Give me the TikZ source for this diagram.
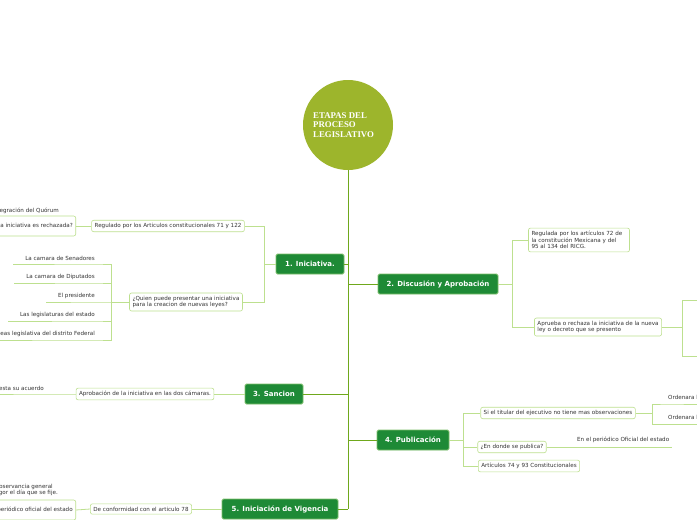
\documentclass[tikz,border=0pt]{standalone}
\usepackage{fontspec}
\setmainfont{DejaVu Sans}
\newfontfamily\titlefont{Liberation Serif}
\definecolor{dk}{HTML}{1E8A36}
\definecolor{ol}{HTML}{9DB52C}
\definecolor{tr}{HTML}{6FA81C}
\definecolor{lg}{HTML}{BDE08F}
\definecolor{tx}{HTML}{333333}
\begin{document}
\begin{tikzpicture}[x=1pt,y=-1pt,
  main/.style={draw=lg!60!dk,line width=0.8pt,fill=dk,rounded corners=1.5pt,text=white,font=\fontsize{7}{8}\selectfont\bfseries,minimum height=20pt,anchor=center},
  sub/.style={draw=lg,line width=0.6pt,fill=white,rounded corners=2pt,text=tx,font=\fontsize{5.6}{6.6}\selectfont,align=left,inner sep=3pt,anchor=center},
  lf/.style={text=tx,font=\fontsize{5.6}{6.6}\selectfont,inner sep=0pt,align=left},
  trk/.style={draw=tr,line width=0.8pt},
  lk/.style={draw=lg,line width=0.8pt}]
\useasboundingbox (0,0) rectangle (697,520);
\clip (0,0) rectangle (697,520);
\fill[white] (0,0) rectangle (697,520);
% trunk
\coordinate (t0) at (348,165);
\coordinate (t5) at (348,509);
\draw[trk] (t0) -- (t5);
\node[circle,fill=ol,minimum size=90pt,inner sep=0pt] (c) at (348,125) {};
\node[text=white,font=\titlefont\fontsize{8.8}{9.5}\selectfont\bfseries,align=left,anchor=west,inner sep=0pt] (ct) at (313,125) {ETAPAS DEL\\PROCESO\\LEGISLATIVO};
% main nodes
\node[main,minimum width=68pt] (m1) at (310,264) {1. Iniciativa.};
\node[main,minimum width=120pt] (m2) at (438,284) {2. Discusión y Aprobación};
\node[main,minimum width=58pt] (m3) at (274,394) {3. Sancion};
\node[main,minimum width=72pt] (m4) at (413,440) {4. Publicación};
\node[main,minimum width=116pt] (m5) at (280,509) {5. Iniciación de Vigencia};
\foreach \m in {m1,m3,m5} \draw[trk] (\m.east) -- (\m.east -| t0);
\foreach \m in {m2,m4} \draw[trk] (\m.west) -- (\m.west -| t0);
% branch 1
\node[sub] (s11) at (168,226) {Regulado por los Articulos constitucionales 71 y 122};
\node[sub] (s12) at (186,302) {¿Quien puede presentar una iniciativa\\para la creacion de nuevas leyes?};
\coordinate (b1) at (264,264);
\draw[lk] (m1.west) -- (b1) |- (s11.east);
\draw[lk] (b1) |- (s12.east);
\node[sub,minimum height=20pt,anchor=east] (s111) at (76,226) {¿Qué pasa si la iniciativa es rechazada?};
\draw[lk] (s11.west) -- (s111.east);
\node[lf,anchor=south east] (s110) at (59,214) {Integración del Quórum};
\coordinate (b12) at (111,302);
\draw[lk] (s12.west) -- (b12);
\foreach \i/\y/\t in {a/264/La camara de Senadores,b/283/La camara de Diputados,c/302/El presidente,d/321/Las legislaturas del estado,e/340/Asambleas legislativa del distrito Federal}{
  \node[lf,anchor=south east] (q\i) at (95,\y-3) {\t};
  \draw[lk] (b12) |- (q\i.south east |- 0,\y) -- ([xshift=-12pt]q\i.south west |- 0,\y);
}
% branch 2
\node[sub,text width=95pt] (s21) at (579,240) {Regulada por los artículos 72 de\\la constitución Mexicana y del\\95 al 134 del RICG.};
\node[sub] (s22) at (598,327) {Aprueba o rechaza la iniciativa de la nueva\\ley o decreto que se presento};
\coordinate (b2) at (512,284);
\draw[lk] (m2.east) -- (b2) |- (s21.west);
\draw[lk] (b2) |- (s22.west);
\coordinate (b22) at (682,327);
\coordinate (r1) at (700,300);
\coordinate (r2) at (700,356);
\draw[lk] (s22.east) -- (b22) |- (r1);
\draw[lk] (b22) |- (r2);
% branch 3
\node[sub] (s31) at (145,394) {Aprobación de la iniciativa en las dos cámaras.};
\draw[lk] (m3.west) -- (s31.east);
\node[lf,anchor=south east] (s311) at (44,391) {Manifiesta su acuerdo};
\draw[lk] (s31.west) -- (s311.south east |- s31.west) -- (s311.south west |- s31.west);
% branch 4
\node[sub] (s41) at (558,413) {Si el titular del ejecutivo no tiene mas observaciones};
\node[sub] (s42) at (512,447) {¿En donde se publica?};
\node[sub] (s43) at (529,466) {Artículos 74 y 93 Constitucionales};
\coordinate (b4) at (463,440);
\draw[lk] (m4.east) -- (b4) |- (s41.west);
\draw[lk] (b4) |- (s42.west);
\draw[lk] (b4) |- (s43.west);
\coordinate (b41) at (652,413);
\node[lf,anchor=south west] (o1) at (668,401) {Ordenara la publicación};
\node[lf,anchor=south west] (o2) at (668,421) {Ordenara la promulgación};
\draw[lk] (s41.east) -- (b41) |- (o1.south west |- 0,404) -- (700,404);
\draw[lk] (b41) |- (700,424);
\node[lf,anchor=south west] (s421) at (577,443) {En el periódico Oficial del estado};
\draw[lk] (s42.east) -- (672,447);
% branch 5
\node[sub] (s51) at (141,509) {De conformidad con el articulo 78};
\draw[lk] (m5.west) -- (s51.east);
\node[sub,minimum height=20pt,anchor=east] (s511) at (76,510) {Publicación en el periódico oficial del estado};
\draw[lk] (s51.west) -- (s511.east);
\node[lf,anchor=south east] (s510) at (58,496) {Las leyes de observancia general\\entrarán en vigor el día que se fije.};
\end{tikzpicture}
\end{document}
